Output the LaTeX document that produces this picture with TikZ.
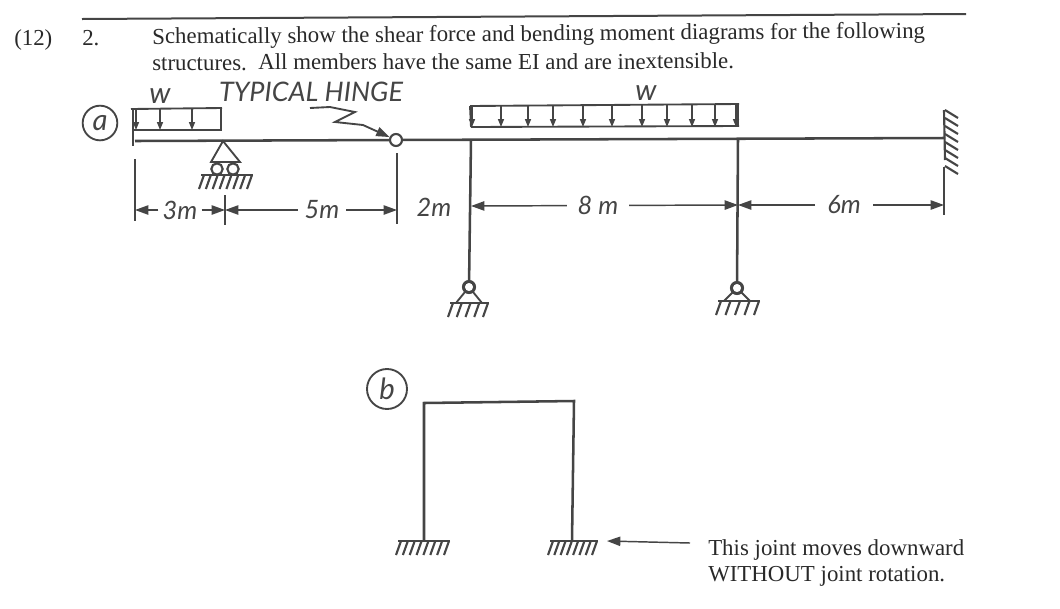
\documentclass[tikz,border=0pt]{standalone}
\usepackage{fontspec}
\usepackage{xcolor}
\usepackage{tikz}
\usetikzlibrary{arrows.meta}
\usetikzlibrary{positioning}
\setmainfont{Liberation Serif}
\newfontfamily\handfont{Lato}
\definecolor{inkdark}{rgb}{0.16,0.16,0.16}
\definecolor{inkgray}{rgb}{0.27,0.27,0.27}
\tikzset{
  printtext/.style={anchor=west,inner sep=0pt,text=inkdark,font=\fontsize{17.15}{20}\selectfont},
  handtext/.style={inner sep=7pt,text=inkgray,font=\handfont\itshape\fontsize{19}{22}\selectfont},
  loadtext/.style={inner sep=0pt,text=inkgray,font=\handfont\itshape\fontsize{22}{22}\selectfont},
  member/.style={color=inkgray,line width=1.9},
  thinline/.style={color=inkgray,line width=1.4},
  dimarrow/.style={color=inkgray,line width=1.1,-{Stealth[length=10pt,width=7pt,inset=0pt]}},
  loadarrow/.style={color=inkgray,line width=1.1,-{Stealth[length=6pt,width=4.5pt,inset=0pt]}},
  pinjoint/.style={circle,draw=inkgray,fill=white,line width=1.6,minimum size=9pt,inner sep=0pt},
  tagcircle/.style={circle,draw=inkgray,line width=1.4,inner sep=0pt,text=inkgray,font=\handfont\itshape\fontsize{22}{24}\selectfont}
}
% ground line with slanted strokes below it
\newcommand{\groundhatch}[4]{
  \draw [thinline,line width=1.6] (#1,#3) -- (#2,#3);
  \foreach \xh in {0,...,#4} {
    \draw [thinline,line width=1.6] ({#1+3+(#2-#1-4)*\xh/#4},#3) -- ++(-5,14);
  }
}
\begin{document}
\begin{tikzpicture}[x=0.75pt,y=0.75pt,yscale=-1,xscale=1]
\useasboundingbox (0,0) rectangle (1060,608);

%Header
\draw [inkgray,line width=1.5] (82,19) -- (966,14);
\node [printtext] (marks) at (14,40) {(12)};
\node [printtext] (number) at (82,38) {2.};
\node [printtext,rotate=0.45] (lineone) at (152,38.5) {Schematically show the shear force and bending moment diagrams for the following};
\node [printtext,rotate=0.15] (linetwo) at (152,62.5) {structures.\ \ All members have the same EI and are inextensible.};

%Structure a: labels
\node [tagcircle,minimum width=26pt] (taga) at (100,123) {a};
\node [loadtext] (wleft) at (160,96) {w};
\node [handtext,inner sep=0pt,font=\handfont\itshape\fontsize{20.2}{22}\selectfont] (hingelabel) at (311,92) {TYPICAL HINGE};
\node [loadtext] (wright) at (646,93) {w};

%Load blocks
\draw [thinline] (131,109) -- (222,108);
\draw [thinline] (134,130) -- (222,130);
\draw [thinline] (221,108) -- (221,130);
\draw [thinline] (133,109) -- (133,146);
\foreach \xa in {136,160,192} {
  \draw [loadarrow] (\xa,109) -- (\xa,130);
}
\draw [thinline] (470,106) -- (739,104);
\draw [thinline] (471,127) -- (739,126);
\draw [thinline] (470,106) -- (471,127);
\draw [thinline] (738,104) -- (738,126);
\foreach \xa in {472,501,528,553,583,612,642,667,692,715,736} {
  \draw [loadarrow] (\xa,105) -- (\xa,127);
}

%Beam and columns
\coordinate (beamstart) at (135,141);
\coordinate (wallpoint) at (945,138);
\coordinate (jointleft) at (471,139.5);
\coordinate (jointright) at (738,138.5);
\node [pinjoint] (hingemid) at (396,140) {};
\node [pinjoint] (pinleft) at (469,287) {};
\node [pinjoint] (pinright) at (737,288) {};
\draw [member] (beamstart) -- (hingemid);
\draw [member] (hingemid) -- (wallpoint);
\draw [member] (jointleft) -- (pinleft);
\draw [member] (jointright) -- (pinright);

%Hand drawn pointer
\coordinate (pointerstart) at (310,108);
\draw [thinline,-{Stealth[length=10pt,width=7pt,inset=0pt]}] (pointerstart) -- (330,107) -- (355,112) -- (335,122) -- (363,125) -- (hingemid);

%Roller support
\coordinate (rollertop) at (223,141);
\coordinate (rollerbaseleft) at (211,162);
\coordinate (rollerbaseright) at (240,162);
\node [pinjoint,minimum size=8.5pt] (rollerone) at (217,169) {};
\node [pinjoint,minimum size=8.5pt] (rollertwo) at (233,169) {};
\draw [thinline] (rollerbaseleft) -- (rollertop) -- (rollerbaseright) -- cycle;
\groundhatch{201}{253}{175}{7}

%Pin supports
\coordinate (legleftA) at (456,303);
\coordinate (legrightA) at (482,303);
\draw [thinline] (legleftA) -- (pinleft.center) -- (legrightA);
\node [pinjoint,minimum size=8pt] at (469,287) {};
\groundhatch{450}{489}{303}{4}
\coordinate (legleftB) at (724,301);
\coordinate (legrightB) at (750,301);
\draw [thinline] (legleftB) -- (pinright.center) -- (legrightB);
\node [pinjoint,minimum size=8pt] at (737,288) {};
\groundhatch{718}{760}{301}{4}

%Fixed wall
\draw [thinline,line width=1.6] (944,110) -- (945,160);
\foreach \yh in {110,118,...,166} {
  \draw [thinline,line width=1.6] (945,\yh) -- ++(13,8);
}

%Dimension ticks
\coordinate (tickAtop) at (135,159);
\coordinate (tickAbot) at (135,221);
\coordinate (tickBtop) at (225,195);
\coordinate (tickBbot) at (225,225);
\coordinate (tickCtop) at (397,153);
\coordinate (tickCbot) at (397,224);
\coordinate (tickEtop) at (944,167);
\coordinate (tickEbot) at (944,215);
\draw [thinline] (tickAtop) -- (tickAbot);
\draw [thinline] (tickBtop) -- (tickBbot);
\draw [thinline] (tickCtop) -- (tickCbot);
\draw [thinline] (tickEtop) -- (tickEbot);

%Dimensions
\coordinate (dimA) at (135,210);
\coordinate (dimB) at (225,210);
\coordinate (dimC) at (397,210);
\coordinate (dimD) at (471,206);
\coordinate (dimE) at (738,205);
\coordinate (dimF) at (944,205);
\node [handtext,inner sep=3pt] (threem) at (180,210) {3m};
\node [handtext,inner sep=5pt] (fivem) at (322,210) {5m};
\node [handtext,inner sep=0pt] (twom) at (434,207) {2m};
\node [handtext,inner sep=8pt] (eightm) at (598,205.5) {8 m};
\node [handtext,inner sep=9pt] (sixm) at (844,205) {6m};
\draw [dimarrow] (threem) -- (dimA);
\draw [dimarrow] (threem) -- (dimB);
\draw [dimarrow] (fivem) -- (dimB);
\draw [dimarrow] (fivem) -- (dimC);
\draw [dimarrow] (eightm) -- (dimD);
\draw [dimarrow] (eightm) -- (dimE);
\draw [dimarrow] (sixm) -- (dimE);
\draw [dimarrow] (sixm) -- (dimF);

%Structure b
\node [tagcircle,minimum width=30pt] (tagb) at (387,389) {b};
\coordinate (frameA) at (424,541);
\coordinate (frameB) at (424,403);
\coordinate (frameC) at (574,401);
\coordinate (frameD) at (572,541);
\draw [member,line join=miter] (frameA) -- (frameB) -- (frameC) -- (frameD);
\groundhatch{398}{450}{541}{7}
\groundhatch{550}{598}{541}{7}

%Note
\node [printtext] (noteone) at (708,549.5) {This joint moves downward};
\node [printtext] (notetwo) at (708,576) {WITHOUT joint rotation.};
\coordinate (notearrowstart) at (690,543);
\coordinate (notearrowend) at (607,541);
\draw [dimarrow] (notearrowstart) -- (notearrowend);

\end{tikzpicture}
\end{document}
